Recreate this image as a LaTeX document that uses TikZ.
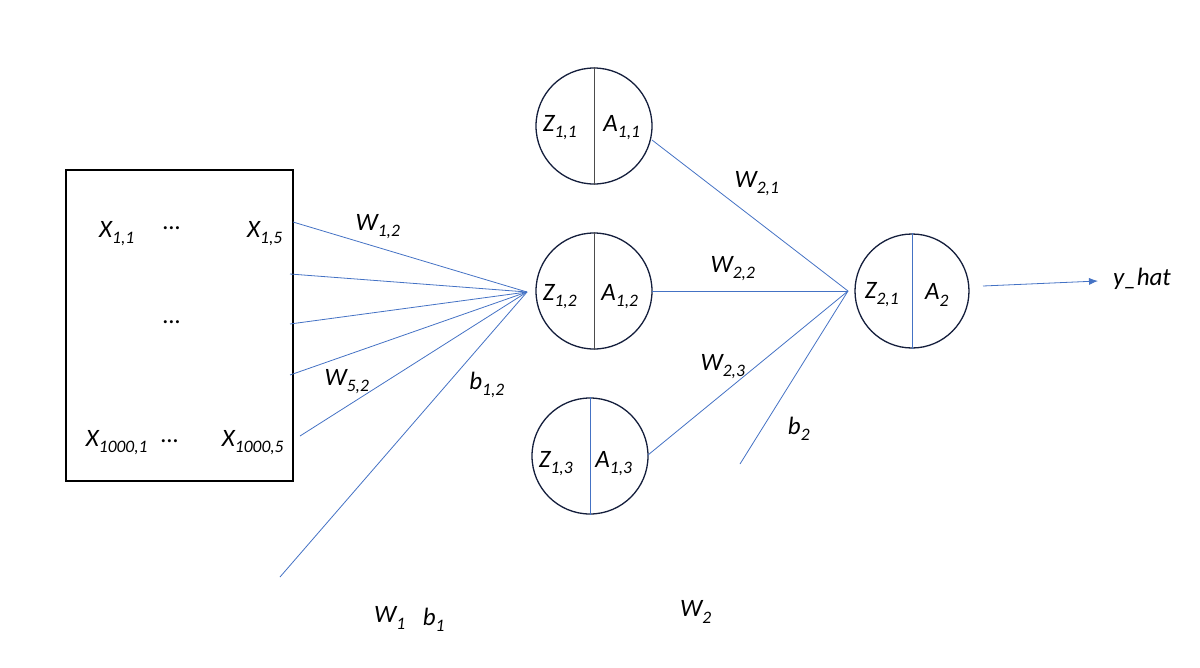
\documentclass[tikz,border=0pt]{standalone}
\usepackage{fontspec}
\setmainfont{Carlito}
\usepackage{unicode-math}
\usetikzlibrary{arrows.meta}
\begin{document}
\begin{tikzpicture}[x=1pt,y=-1pt,
  lab/.style={font=\fontsize{25}{27}\selectfont\itshape, inner sep=0pt},
  blu/.style={draw={rgb,255:red,68;green,114;blue,196}, line width=0.8pt},
  neur/.style={circle, draw={rgb,255:red,20;green,30;blue,60}, line width=1.3pt, minimum size=116pt, inner sep=0pt}]
\useasboundingbox (0,0) rectangle (1200,667);
\node[draw=black, line width=1.2pt, minimum width=227pt, minimum height=311pt, inner sep=0pt] (box) at (179.5,325.5) {};
\newcommand{\lb}[3]{\node[lab] (#1) at (#2) {#3};}
\lb{x11}{117,234}{X\textsubscript{1,1}}
\lb{d1}{172,228}{…}
\lb{x15}{265,234}{X\textsubscript{1,5}}
\lb{d2}{172,322}{…}
\lb{xa}{117,443}{X\textsubscript{1000,1}}
\lb{d3}{170,441}{…}
\lb{xb}{253,443}{X\textsubscript{1000,5}}
% neurons
\node[neur] (c11) at (594,126) {};
\node[neur] (c12) at (594,291) {};
\node[neur] (c13) at (590,456) {};
\node[neur,minimum size=114pt] (c21) at (912,291) {};
\draw[line width=0.8pt,black!70] (c11.north) -- (c11.south);
\draw[line width=0.8pt,black!70] (c12.north) -- (c12.south);
\draw[blu] (c13.north) -- (c13.south);
\draw[blu] (c21.north) -- (c21.south);
\lb{z11}{560,128}{Z\textsubscript{1,1}}
\lb{a11}{622,128}{A\textsubscript{1,1}}
\lb{z12}{560,297}{Z\textsubscript{1,2}}
\lb{a12}{620,297}{A\textsubscript{1,2}}
\lb{z13}{556,464}{Z\textsubscript{1,3}}
\lb{a13}{614,464}{A\textsubscript{1,3}}
\lb{z21}{882,295}{Z\textsubscript{2,1}}
\lb{a2}{937,295}{A\textsubscript{2}}
% hub points
\coordinate (h1) at (527,292);
\coordinate (h2) at (848,291);
\coordinate (i1) at (293,222);
\coordinate (i2) at (290,274);
\coordinate (i3) at (290,324);
\coordinate (i4) at (290,375);
\coordinate (i5) at (300,436);
\coordinate (i6) at (280,577);
\foreach \p in {i1,i2,i3,i4,i5,i6} \draw[blu] (\p) -- (h1);
\coordinate (o1) at (652,140);
\coordinate (o2) at (652,291);
\coordinate (o3) at (648,455);
\coordinate (o4) at (740,464);
\foreach \p in {o1,o2,o3,o4} \draw[blu] (\p) -- (h2);
\coordinate (s) at (983,286);
\coordinate (e) at (1098,281);
\draw[blu,-{Latex[length=9pt,width=7pt]}] (s) -- (e);
\lb{yh}{1142,279}{y\_hat}
\lb{w12}{378,227}{W\textsubscript{1,2}}
\lb{w52}{347,382}{W\textsubscript{5,2}}
\lb{b12}{487,385}{b\textsubscript{1,2}}
\lb{w21}{757,184}{W\textsubscript{2,1}}
\lb{w22}{733,269}{W\textsubscript{2,2}}
\lb{w23}{723,367}{W\textsubscript{2,3}}
\lb{b2}{799,429}{b\textsubscript{2}}
\lb{W1}{390,618}{W\textsubscript{1}}
\lb{B1}{434,620}{b\textsubscript{1}}
\lb{W2}{696,612}{W\textsubscript{2}}
\end{tikzpicture}
\end{document}
